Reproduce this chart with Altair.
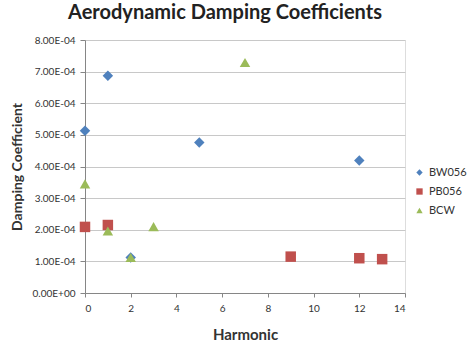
import altair as alt
import pandas as pd

series_names = ["BW056", "PB056", "BCW"]
bw_x = [0, 1, 2, 5, 12]
bw_y = [5.13e-4, 6.87e-4, 1.12e-4, 4.76e-4, 4.19e-4]
pb_x = [0, 1, 9, 12, 13]
pb_y = [2.09e-4, 2.15e-4, 1.15e-4, 1.10e-4, 1.07e-4]
bcw_x = [0, 1, 2, 3, 7]
bcw_y = [3.45e-4, 1.96e-4, 1.12e-4, 2.10e-4, 7.29e-4]
colors = ["#4F81BD", "#C0504D", "#9BBB59"]
shapes = ["diamond", "square", "triangle-up"]

rows = []
for name, xs, ys in zip(series_names, [bw_x, pb_x, bcw_x], [bw_y, pb_y, bcw_y]):
    for xv, yv in zip(xs, ys):
        rows.append({"Harmonic": xv, "Value": yv, "Series": name})
df = pd.DataFrame(rows)

FONT = "Lato"

chart = alt.Chart(df).mark_point(filled=True, opacity=1, size=110).encode(
    x=alt.X("Harmonic:Q",
            scale=alt.Scale(domain=[0, 14], nice=False),
            axis=alt.Axis(values=list(range(0, 15, 2)), grid=False, title="Harmonic",
                          titleFontSize=15, titleFont=FONT, titleFontWeight="bold",
                          titleColor="#333333", titlePadding=14,
                          labelFont=FONT, labelFontSize=10, labelColor="#333333",
                          labelPadding=6,
                          domainColor="#868686", tickColor="#868686", tickSize=4)),
    y=alt.Y("Value:Q",
            scale=alt.Scale(domain=[0, 8e-4], nice=False),
            axis=alt.Axis(values=[i * 1e-4 for i in range(9)], grid=True,
                          gridColor="#c8c8c8",
                          labelExpr="datum.value < 1e-9 ? '0.00E+00' : format(datum.value*10000, '.2f') + 'E-04'",
                          title="Damping Coefficient",
                          titleFontSize=14, titleFont=FONT, titleFontWeight="bold",
                          titleColor="#333333", titlePadding=8,
                          labelFont=FONT, labelFontSize=10, labelColor="#333333",
                          labelPadding=5,
                          domainColor="#868686", tickColor="#868686", tickSize=5)),
    color=alt.Color("Series:N",
                    scale=alt.Scale(domain=series_names, range=colors),
                    legend=alt.Legend(title=None, orient="none", legendX=329, legendY=127,
                                      labelFont=FONT, labelFontSize=11, labelColor="#333333",
                                      symbolSize=40, rowPadding=7)),
    shape=alt.Shape("Series:N",
                    scale=alt.Scale(domain=series_names, range=shapes)),
    order=alt.Order("ord:Q"),
).transform_calculate(
    ord="indexof(['BW056','PB056','BCW'], datum.Series)"
).properties(
    width=320,
    height=253,
    title=alt.TitleParams("Aerodynamic Damping Coefficients", font=FONT, fontSize=20,
                          fontWeight="bold", color="#222222", offset=12, dx=-20,
                          frame="group"),
    autosize=alt.AutoSizeParams(type="none"),
    padding={"left": 85, "top": 40, "right": 69, "bottom": 60},
).configure_view(stroke=None).configure(background="white")

chart.save("out.html", embed_options={"renderer": "svg", "actions": False})
